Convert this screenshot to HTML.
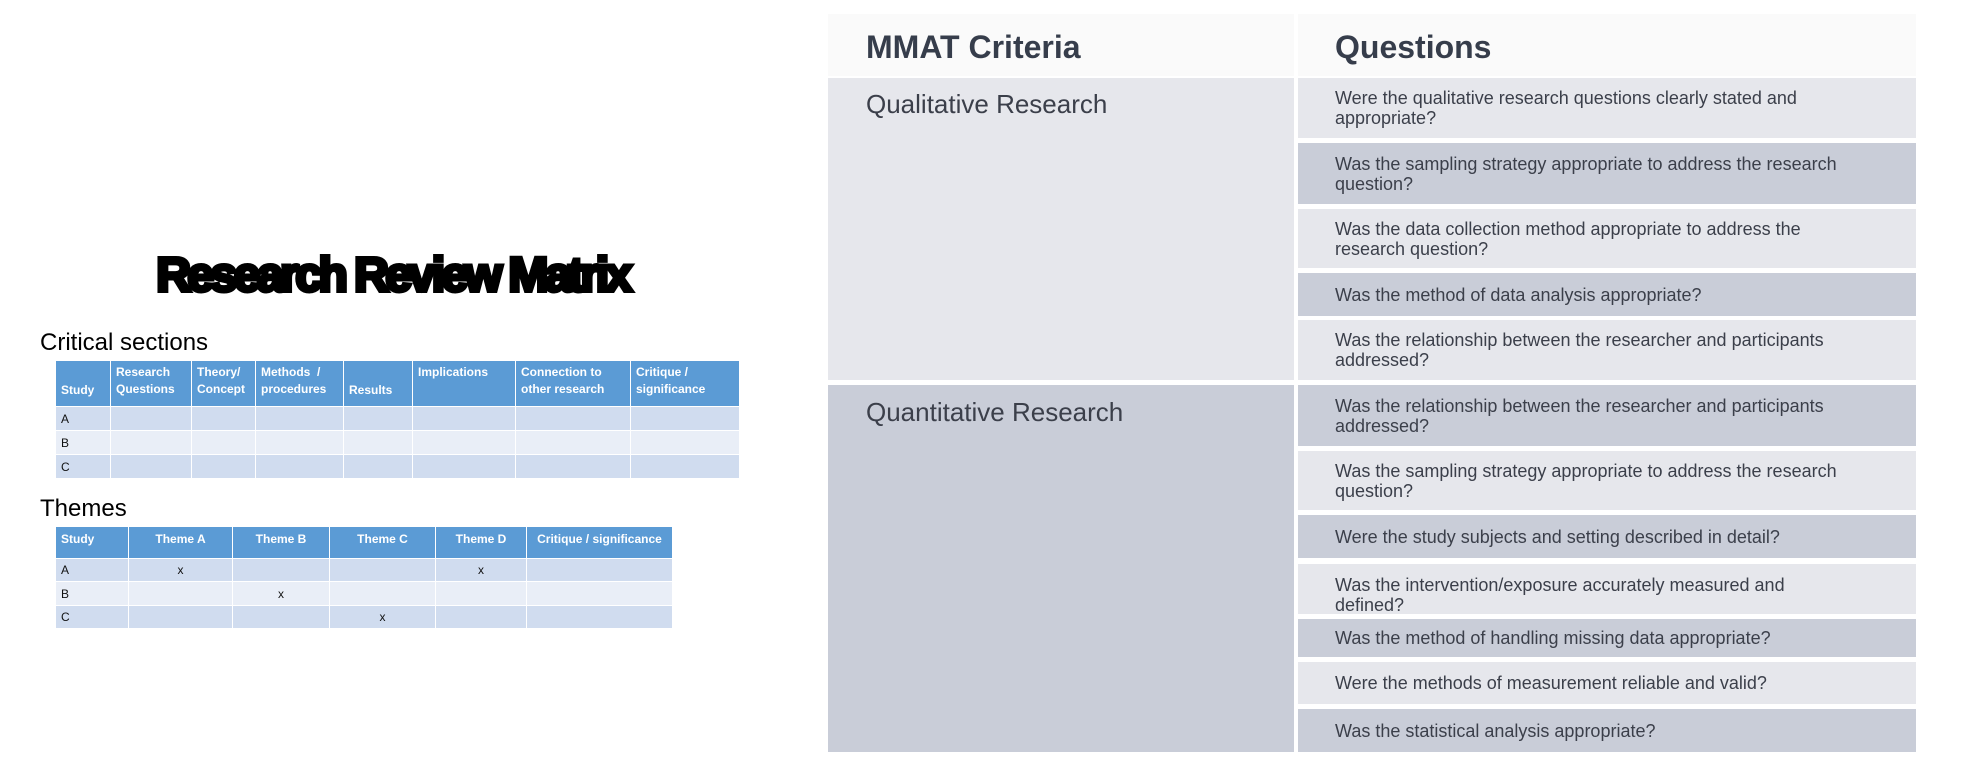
<!DOCTYPE html>
<html><head><meta charset="utf-8"><style>
body{margin:0;width:1984px;height:768px;background:#fff;position:relative;overflow:hidden;font-family:"Liberation Sans",sans-serif}
.a{position:absolute;box-sizing:border-box}
.q{position:absolute;left:1298px;width:618px;display:flex;align-items:center;padding-left:37px;padding-right:5px;font-size:18px;line-height:20px;color:#3b3f4a;box-sizing:border-box;white-space:nowrap}
.L{background:#e6e7ec}.D{background:#c9cdd8}
table{position:absolute;border-collapse:collapse;font-family:"Liberation Sans Narrow","Liberation Sans",sans-serif;font-size:12px}
td{border:1.5px solid #fff;padding:0 5px;color:#111}
th{border:1.5px solid #fff;background:#5b9bd5;color:#fff;font-weight:bold;text-align:left;padding:0 5px;font-size:12px;line-height:17px}
tr.o td{background:#d0dcef}tr.e td{background:#e9eef7}
</style></head><body>
<div class="a" style="left:0;width:785px;top:250px;text-align:center;font-size:48px;font-weight:900;letter-spacing:-3.5px;-webkit-text-stroke:4px #000;color:#000;line-height:52px">Research Review Matrix</div>
<div class="a" style="left:40px;top:329px;font-size:24px;color:#000">Critical sections</div>
<table style="left:55px;top:360px;width:685px">
<tr style="height:46px"><th style="width:44px;vertical-align:bottom;padding-bottom:7px">Study</th><th style="width:70px;vertical-align:top;padding-top:3px">Research Questions</th><th style="width:53px;vertical-align:top;padding-top:3px">Theory/ Concept</th><th style="width:77px;vertical-align:top;padding-top:3px">Methods&nbsp; / procedures</th><th style="width:58px;vertical-align:bottom;padding-bottom:7px">Results</th><th style="width:92px;vertical-align:top;padding-top:3px">Implications</th><th style="width:104px;vertical-align:top;padding-top:3px">Connection to other research</th><th style="vertical-align:top;padding-top:3px">Critique / significance</th></tr>
<tr class="o" style="height:24px"><td>A</td><td></td><td></td><td></td><td></td><td></td><td></td><td></td></tr>
<tr class="e" style="height:24px"><td>B</td><td></td><td></td><td></td><td></td><td></td><td></td><td></td></tr>
<tr class="o" style="height:24px"><td>C</td><td></td><td></td><td></td><td></td><td></td><td></td><td></td></tr>
</table>
<div class="a" style="left:40px;top:495px;font-size:24px;color:#000">Themes</div>
<table style="left:55px;top:526px;width:618px">
<tr style="height:32px"><th style="width:62px;vertical-align:top;padding-top:4px">Study</th><th style="width:93px;text-align:center;vertical-align:top;padding-top:4px">Theme A</th><th style="width:86px;text-align:center;vertical-align:top;padding-top:4px">Theme B</th><th style="width:95px;text-align:center;vertical-align:top;padding-top:4px">Theme C</th><th style="width:80px;text-align:center;vertical-align:top;padding-top:4px">Theme D</th><th style="text-align:center;vertical-align:top;padding-top:4px">Critique / significance</th></tr>
<tr class="o" style="height:23px"><td>A</td><td style="text-align:center">x</td><td></td><td></td><td style="text-align:center">x</td><td></td></tr>
<tr class="e" style="height:24px"><td>B</td><td></td><td style="text-align:center">x</td><td></td><td></td><td></td></tr>
<tr class="o" style="height:23px"><td>C</td><td></td><td></td><td style="text-align:center">x</td><td></td><td></td></tr>
</table>

<div class="a" style="left:828px;top:14px;width:466px;height:62px;background:#fafafa"></div>
<div class="a" style="left:1298px;top:14px;width:618px;height:62px;background:#fafafa"></div>
<div class="a" style="left:866px;top:29px;font-size:32px;font-weight:bold;color:#363d4b">MMAT Criteria</div>
<div class="a" style="left:1335px;top:29px;font-size:32px;font-weight:bold;color:#363d4b">Questions</div>
<div class="a L" style="left:828px;top:78px;width:466px;height:302px"></div>
<div class="a D" style="left:828px;top:385px;width:466px;height:367px"></div>
<div class="a" style="left:866px;top:89px;font-size:26px;color:#3b3f4a">Qualitative Research</div>
<div class="a" style="left:866px;top:397px;font-size:26px;color:#3b3f4a">Quantitative Research</div>

<div class="q L" style="top:78px;height:60px">Were the qualitative research questions clearly stated and<br>appropriate?</div>
<div class="q D" style="top:143px;height:61px">Was the sampling strategy appropriate to address the research<br>question?</div>
<div class="q L" style="top:209px;height:59px">Was the data collection method appropriate to address the<br>research question?</div>
<div class="q D" style="top:273px;height:43px">Was the method of data analysis appropriate?</div>
<div class="q L" style="top:320px;height:60px">Was the relationship between the researcher and participants<br>addressed?</div>
<div class="q D" style="top:385px;height:61px">Was the relationship between the researcher and participants<br>addressed?</div>
<div class="q L" style="top:451px;height:59px">Was the sampling strategy appropriate to address the research<br>question?</div>
<div class="q D" style="top:515px;height:43px">Were the study subjects and setting described in detail?</div>
<div class="q L" style="top:564px;height:50px;padding-top:12px">Was the intervention/exposure accurately measured and<br>defined?</div>
<div class="q D" style="top:619px;height:38px">Was the method of handling missing data appropriate?</div>
<div class="q L" style="top:662px;height:42px">Were the methods of measurement reliable and valid?</div>
<div class="q D" style="top:709px;height:43px">Was the statistical analysis appropriate?</div>
</body></html>
